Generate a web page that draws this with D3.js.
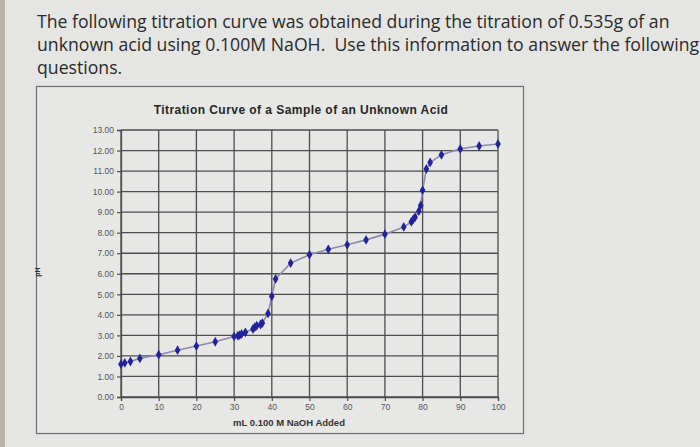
<!DOCTYPE html>
<html><head><meta charset="utf-8">
<script src="https://cdn.jsdelivr.net/npm/d3@7"></script>
<style>
html,body{margin:0;padding:0;background:#e5e5e3;}
svg{display:block;}
</style></head>
<body>
<svg id="c" width="700" height="447"></svg>
<script>
// ---- data ----
const headerLines = [
  "The following titration curve was obtained during the titration of 0.535g of an",
  "unknown acid using 0.100M NaOH.  Use this information to answer the following",
  "questions."
];
const chartTitle = "Titration Curve of a Sample of an Unknown Acid";
const xTitle = "mL 0.100 M NaOH Added";
const yTitle = "pH";
const volume = [0, 1, 2.5, 5, 10, 15, 20, 25, 30, 31, 31.5, 32, 33, 35, 35.5, 36, 37, 37.5, 39, 40, 41, 45, 50, 55, 60, 65, 70, 75, 77, 77.5, 78, 79, 79.5, 80, 81, 82, 85, 90, 95, 100];
const pH     = [1.60, 1.66, 1.73, 1.88, 2.06, 2.28, 2.48, 2.69, 2.95, 2.98, 3.01, 3.07, 3.15, 3.31, 3.40, 3.47, 3.53, 3.60, 4.07, 4.90, 5.75, 6.52, 6.93, 7.19, 7.41, 7.65, 7.93, 8.28, 8.53, 8.65, 8.75, 9.05, 9.33, 10.07, 11.10, 11.42, 11.79, 12.08, 12.22, 12.32];
const xTicks = [0, 10, 20, 30, 40, 50, 60, 70, 80, 90, 100];
const yTicks = [0,1,2,3,4,5,6,7,8,9,10,11,12,13];

const svg = d3.select("#c");

// left screen edge
svg.append("rect").attr("x",0).attr("y",0).attr("width",5).attr("height",447).attr("fill","#b9b3aa");

// header text
const hdr = svg.append("g").attr("font-family","'Open Sans', sans-serif").attr("fill","#2a2a2a");
const baselines = [28, 51, 74];
const t0 = hdr.append("text").attr("x",37).attr("y",baselines[0]).attr("font-size",16).text(headerLines[0]);
const w0 = t0.node().getComputedTextLength();
const fs = 16 * 633 / w0;
t0.attr("font-size", fs);
headerLines.slice(1).forEach((l,i)=>{
  hdr.append("text").attr("x",37).attr("y",baselines[i+1]).attr("font-size",fs).style("white-space","pre").text(l);
});

// chart outer box
svg.append("rect").attr("x",36.5).attr("y",86.5).attr("width",487).attr("height",347)
  .attr("fill","#e7e7e5").attr("stroke","#6e6e6e").attr("stroke-width",1.2);

const x = d3.scaleLinear().domain([0,100]).range([121,498]);
const y = d3.scaleLinear().domain([0,13]).range([397,130]);

// gridlines
const grid = svg.append("g").attr("stroke","#4d4d4d").attr("stroke-width",1.3);
grid.selectAll("line.h").data(yTicks).join("line").attr("class","h")
  .attr("x1",x(0)).attr("x2",x(100)).attr("y1",d=>y(d)).attr("y2",d=>y(d));
grid.selectAll("line.v").data(xTicks).join("line").attr("class","v")
  .attr("x1",d=>x(d)).attr("x2",d=>x(d)).attr("y1",y(0)).attr("y2",y(13));

// axes
const xAxis = d3.axisBottom(x).tickValues(xTicks).tickSize(4).tickPadding(3).tickFormat(d3.format("d"));
const yAxis = d3.axisLeft(y).tickValues(yTicks).tickSize(4).tickPadding(3).tickFormat(d3.format(".2f"));
const gx = svg.append("g").attr("transform",`translate(0,${y(0)})`).call(xAxis);
const gy = svg.append("g").attr("transform",`translate(${x(0)},0)`).call(yAxis);
[gx,gy].forEach(g=>{
  g.select(".domain").attr("stroke","#4d4d4d").attr("stroke-width",1.3);
  g.selectAll(".tick line").attr("stroke","#4d4d4d").attr("stroke-width",1.2);
  g.selectAll(".tick text").attr("fill","#555").attr("font-family","'Liberation Sans', Arial, sans-serif").attr("font-size",8.5);
});

// titles
svg.append("text").attr("x",301).attr("y",114).attr("text-anchor","middle")
  .attr("font-family","'Liberation Sans', Arial, sans-serif").attr("font-weight","bold").attr("font-size",12)
  .attr("letter-spacing",0.45).attr("fill","#262626").text(chartTitle);
svg.append("text").attr("x",289).attr("y",426).attr("text-anchor","middle")
  .attr("font-family","'Liberation Sans', Arial, sans-serif").attr("font-weight","bold").attr("font-size",9.5)
  .attr("fill","#333").text(xTitle);
svg.append("text").attr("transform","translate(40,272) rotate(-90)").attr("text-anchor","middle")
  .attr("font-family","'Liberation Sans', Arial, sans-serif").attr("font-weight","bold").attr("font-size",7)
  .attr("fill","#333").text(yTitle);

// data line + markers
const pts = volume.map((v,i)=>[v,pH[i]]);
svg.append("path").datum(pts)
  .attr("d", d3.line().x(d=>x(d[0])).y(d=>y(d[1])))
  .attr("fill","none").attr("stroke","#8c8cae").attr("stroke-width",1.6);
svg.append("g").selectAll("path").data(pts).join("path")
  .attr("transform",d=>`translate(${x(d[0])},${y(d[1])})`)
  .attr("d", d3.symbol(d3.symbolDiamond, 28))
  .attr("fill","#22229a");
</script>
</body></html>
